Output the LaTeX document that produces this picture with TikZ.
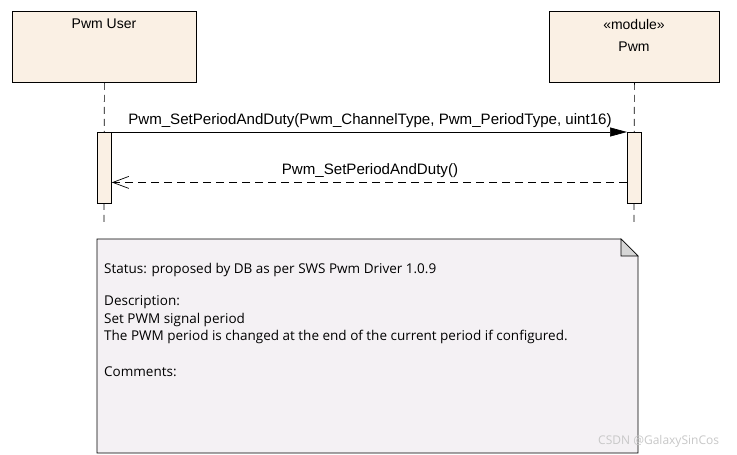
\documentclass[tikz,border=0pt]{standalone}
\usepackage{fontspec}
\setmainfont{Liberation Sans}
\newfontfamily\notefont{Open Sans}
\usetikzlibrary{arrows.meta}
\definecolor{boxfill}{HTML}{FAF0E4}
\definecolor{notefill}{HTML}{F4F1F4}
\definecolor{foldfill}{HTML}{D6D6D6}
\definecolor{wm}{HTML}{C8C8C8}
\begin{document}
\begin{tikzpicture}[x=1pt,y=-1pt,
  lifebox/.style={draw=black,fill=boxfill,line width=0.8pt},
  actbox/.style={draw=black,fill=boxfill,line width=0.8pt},
  lifeline/.style={draw=black,dash pattern=on 7pt off 5pt,line width=0.7pt},
  msg/.style={draw=black,line width=0.7pt,-{Triangle[length=17pt,width=9pt]}},
  ret/.style={draw=black,line width=0.7pt,dash pattern=on 8pt off 5pt,-{Straight Barb[length=16pt,width=12pt,line width=0.7pt]}},
  lbl/.style={font=\fontsize{15.1}{17}\selectfont,inner sep=0pt},
  hlbl/.style={font=\fontsize{14}{16}\selectfont,inner sep=0pt},
  notetxt/.style={font=\notefont\fontsize{13.5}{15}\selectfont,inner sep=0pt,anchor=west}]
\useasboundingbox (0,0) rectangle (737,455);
\fill[white] (0,0) rectangle (737,455);
% lifeline heads
\node[lifebox,minimum width=184pt,minimum height=71pt,anchor=north west,inner sep=0pt] (user) at (12,11) {};
\node[hlbl] (usert) at (104,24) {Pwm User};
\node[lifebox,minimum width=170pt,minimum height=71pt,anchor=north west,inner sep=0pt] (pwm) at (549,11) {};
\node[hlbl] (pwms) at (634,24) {«module»};
\node[hlbl] (pwmt) at (634,47) {Pwm};
% lifelines
\coordinate (ue) at (104,225);
\coordinate (pe) at (634,225);
\draw[lifeline] (user.south) -- (ue);
\draw[lifeline] (pwm.south) -- (pe);
% activations
\node[actbox,minimum width=14pt,minimum height=71pt,anchor=north west,inner sep=0pt] (ua) at (97,132) {};
\node[actbox,minimum width=14pt,minimum height=71pt,anchor=north west,inner sep=0pt] (pa) at (627,132) {};
% messages
\draw[msg] (ua.north east) -- (pa.north west);
\node[lbl] (m1) at (370,121) {Pwm\_SetPeriodAndDuty(Pwm\_ChannelType, Pwm\_PeriodType, uint16)};
\draw[ret] ([yshift=-14.5pt]pa.west) -- ([yshift=-14.5pt]ua.east);
\node[lbl] (m2) at (370,171) {Pwm\_SetPeriodAndDuty()};
% note
\draw[fill=notefill,line width=0.8pt] (97,239) -- (621,239) -- (638,256) -- (638,453) -- (97,453) -- cycle;
\draw[fill=foldfill,line width=0.6pt] (621,239) -- (621,256) -- (638,256) -- cycle;
\node[notetxt] (n1) at (104,270) {Status: proposed by DB as per SWS Pwm Driver 1.0.9};
\node[notetxt] (n2) at (104,302) {Description:};
\node[notetxt] (n3) at (104,320) {Set PWM signal period};
\node[notetxt] (n4) at (104,337) {The PWM period is changed at the end of the current period if configured.};
\node[notetxt] (n5) at (104,372) {Comments:};
\node[font=\notefont\fontsize{12}{14}\selectfont,text=wm,inner sep=0pt,anchor=west] (wmk) at (598,441) {CSDN @GalaxySinCos};
\end{tikzpicture}
\end{document}
